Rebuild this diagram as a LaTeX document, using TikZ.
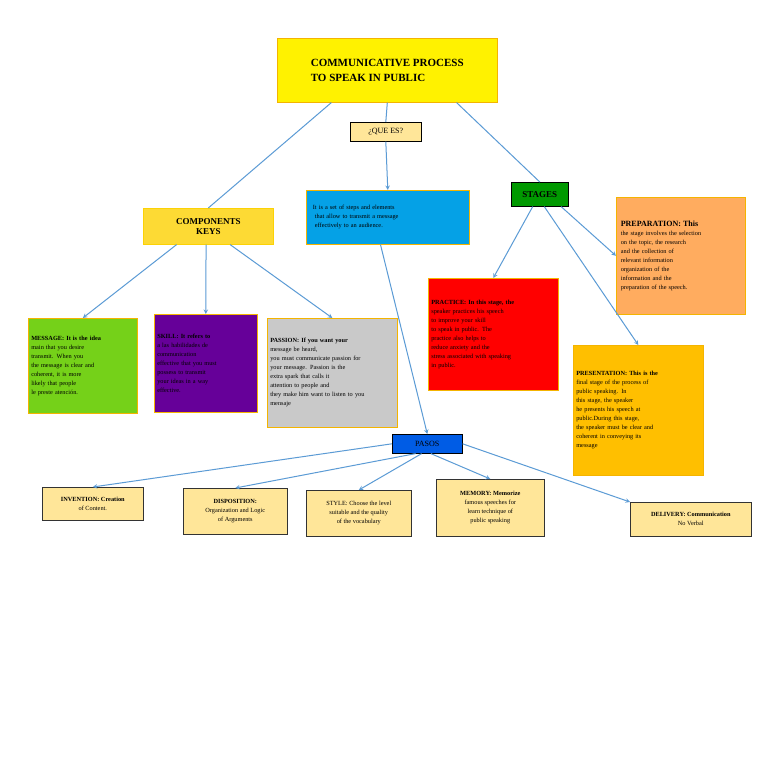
\documentclass[tikz,border=0pt]{standalone}
\usepackage{fontspec}
\setmainfont{Liberation Serif}
\usetikzlibrary{calc}
\definecolor{arr}{HTML}{5B9BD5}
\definecolor{boxy}{HTML}{FFE699}
\definecolor{edgeo}{HTML}{F4B400}
\begin{document}
\begin{tikzpicture}[x=1pt,y=-1pt,>=stealth,
  box/.style={draw=edgeo,line width=0.6pt,anchor=north west,inner sep=3pt,align=left,font=\fontsize{6.3}{9}\selectfont},
  stepbox/.style={box,draw=black!80,fill=boxy,align=center},
  link/.style={draw=arr,line width=1pt,->}]
\useasboundingbox[fill=white] (0,0) rectangle (768,762);
% top
\node[box,draw=edgeo,fill=yellow,minimum width=220pt,minimum height=64pt,align=left,font=\bfseries\fontsize{11}{15}\selectfont] (title) at (277,38) {COMMUNICATIVE PROCESS\\TO SPEAK IN PUBLIC};
\node[box,draw=black,fill=boxy,minimum width=71pt,minimum height=19pt,align=center,font=\fontsize{8}{9}\selectfont,inner sep=1pt] (que) at (350,122) {¿QUE ES?};
\node[box,fill=cyan!90!blue,minimum width=163pt,minimum height=54pt,text width=150pt,anchor=north west] (def) at (306,190) {It is a set of steps and elements\\ \ that allow to transmit a message\\ \ effectively to an audience.};
\node[box,draw=black,fill=green!60!black,minimum width=57pt,minimum height=24pt,align=center,font=\bfseries\fontsize{9}{10}\selectfont,inner sep=1pt] (stages) at (511,182) {STAGES};
\node[box,fill=yellow!70!orange!80,draw=yellow!70!orange,minimum width=130pt,minimum height=36pt,align=center,font=\bfseries\fontsize{9}{10}\selectfont] (comp) at (143,208) {COMPONENTS\\KEYS};
% stages
\node[box,fill=orange!45!pink!90!yellow,minimum width=129pt,minimum height=117pt,text width=120pt] (prep) at (616,197) {\textbf{\fontsize{8}{9}\selectfont PREPARATION: This}\\the stage involves the selection\\on the topic, the research\\and the collection of\\relevant information\\organization of the\\information and the\\preparation of the speech.};
\node[box,fill=red,minimum width=130pt,minimum height=112pt,text width=124pt] (prac) at (428,278) {\textbf{PRACTICE: In this stage, the}\\speaker practices his speech\\to improve your skill\\to speak in public. The\\practice also helps to\\reduce anxiety and the\\stress associated with speaking\\in public.};
\node[box,fill=orange!50!yellow,minimum width=129pt,minimum height=130pt,text width=124pt] (pres) at (573,345) {\textbf{PRESENTATION: This is the}\\final stage of the process of\\public speaking. In\\this stage, the speaker\\he presents his speech at\\public.During this stage,\\the speaker must be clear and\\coherent in conveying its\\message};
% components
\node[box,fill=green!50!yellow!80!black!90,minimum width=109pt,minimum height=95pt,text width=103pt] (msg) at (28,318) {\textbf{MESSAGE: It is the idea}\\main that you desire\\transmit. When you\\the message is clear and\\coherent, it is more\\likely that people\\le preste atención.};
\node[box,fill=violet!80!blue,minimum width=103pt,minimum height=98pt,text width=97pt] (skill) at (154,314) {\textbf{SKILL: It refers to}\\a las habilidades de\\communication\\effective that you must\\possess to transmit\\your ideas in a way\\effective.};
\node[box,fill=black!21,minimum width=130pt,minimum height=109pt,text width=124pt] (pass) at (267,318) {\textbf{PASSION: If you want your}\\message be heard,\\you must communicate passion for\\your message. Passion is the\\extra spark that calls it\\attention to people and\\they make him want to listen to you\\mensaje};
% pasos
\node[box,draw=black,fill=blue!60!cyan!90!black,minimum width=70pt,minimum height=19pt,align=center,font=\fontsize{8}{9}\selectfont,inner sep=1pt] (pasos) at (392,434) {PASOS};
\node[stepbox,minimum width=101pt,minimum height=33pt] (inv) at (42,487) {\textbf{INVENTION: Creation}\\of Content.};
\node[stepbox,minimum width=104pt,minimum height=46pt] (disp) at (183,488) {\textbf{DISPOSITION:}\\Organization and Logic\\of Arguments};
\node[stepbox,minimum width=105pt,minimum height=46pt] (style) at (306,490) {STYLE: Choose the level\\suitable and the quality\\of the vocabulary};
\node[stepbox,minimum width=108pt,minimum height=57pt] (mem) at (436,479) {\textbf{MEMORY: Memorize}\\famous speeches for\\learn technique of\\public speaking};
\node[stepbox,minimum width=121pt,minimum height=34pt] (deliv) at (630,502) {\textbf{DELIVERY: Communication}\\No Verbal};
% connectors
\draw[draw=arr,line width=1pt] (title.south) -- (que.north);
\draw[draw=arr,line width=1pt] (title.-150) -- (comp.north);
\draw[draw=arr,line width=1pt] (title.-25) -- (stages.north);
\draw[link] (que.south) -- (def.north);
\draw[link] (comp.-150) -- (msg.north);
\draw[link] (comp.-97) -- (skill.north);
\draw[link] (comp.-40) -- (pass.north);
\draw[link] (def.-105) -- (pasos.north);
\draw[link] (stages.-120) -- (prac.north);
\draw[link] (stages.-30) -- (prep.west);
\draw[link] (stages.-70) -- (pres.north);
\draw[link] (pasos.west) -- (inv.north);
\draw[link] (pasos.-140) -- (disp.north);
\draw[link] (pasos.-120) -- (style.north);
\draw[link] (pasos.-70) -- (mem.north);
\draw[link] (pasos.east) -- (deliv.north west);
\end{tikzpicture}
\end{document}
